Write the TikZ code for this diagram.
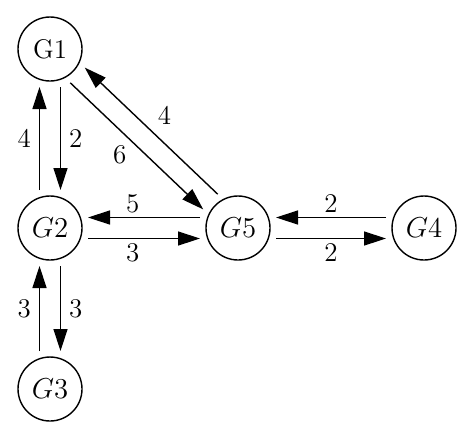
\documentclass[tikz,border=0pt]{standalone}
\usepackage{amsmath}
\usepackage{fontspec}
\usepackage{tikz}
\usetikzlibrary{arrows.meta,calc}

\tikzset{
  gnode/.style={draw,circle,line width=0.7pt,minimum size=32pt,inner sep=0pt,font=\fontsize{13.5}{16}\selectfont},
  link/.style={line width=0.7pt,-{Triangle[length=11pt,width=7pt]},shorten <=19pt,shorten >=19pt},
  wlabel/.style={font=\fontsize{13.5}{16}\selectfont,inner sep=2pt}
}

\begin{document}
\begin{tikzpicture}[x=0.5pt,y=-0.5pt]
\useasboundingbox (0,0) rectangle (474,439);

\node[gnode] (G1) at (50,49) {G1};
\node[gnode] (G2) at (50,228) {$G2$};
\node[gnode] (G3) at (50,389) {$G3$};
\node[gnode] (G5) at (238,228) {$G5$};
\node[gnode] (G4) at (424,228) {$G4$};

% G1 -- G2
\draw[link] ($(G1)!5.25pt!90:(G2)$) -- node[wlabel,right=2pt] {2} ($(G2)!5.25pt!-90:(G1)$);
\draw[link] ($(G2)!5.25pt!90:(G1)$) -- node[wlabel,left=2pt] {4} ($(G1)!5.25pt!-90:(G2)$);
% G2 -- G3
\draw[link] ($(G2)!5.25pt!90:(G3)$) -- node[wlabel,right=2pt] {3} ($(G3)!5.25pt!-90:(G2)$);
\draw[link] ($(G3)!5.25pt!90:(G2)$) -- node[wlabel,left=2pt] {3} ($(G2)!5.25pt!-90:(G3)$);
% G1 -- G5
\draw[link] ($(G1)!5.25pt!-90:(G5)$) -- node[wlabel,below left,pos=0.47] {6} ($(G5)!5.25pt!90:(G1)$);
\draw[link] ($(G5)!5.25pt!-90:(G1)$) -- node[wlabel,above right=1pt] {4} ($(G1)!5.25pt!90:(G5)$);
% G2 -- G5
\draw[link] ($(G5)!5.25pt!-90:(G2)$) -- node[wlabel,above,pos=0.56] {5} ($(G2)!5.25pt!90:(G5)$);
\draw[link] ($(G2)!5.25pt!-90:(G5)$) -- node[wlabel,below,pos=0.44] {3} ($(G5)!5.25pt!90:(G2)$);
% G5 -- G4
\draw[link] ($(G4)!5.25pt!-90:(G5)$) -- node[wlabel,above] {2} ($(G5)!5.25pt!90:(G4)$);
\draw[link] ($(G5)!5.25pt!-90:(G4)$) -- node[wlabel,below] {2} ($(G4)!5.25pt!90:(G5)$);
\end{tikzpicture}
\end{document}
